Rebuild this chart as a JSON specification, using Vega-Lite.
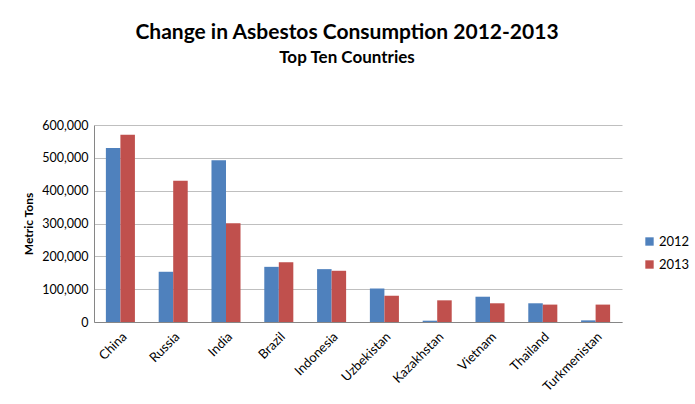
{
  "$schema": "https://vega.github.io/schema/vega-lite/v6.json",
  "autosize": {"type": "none"},
  "width": 528,
  "height": 197,
  "padding": {"left": 94, "top": 125, "right": 73, "bottom": 82},
  "background": "white",
  "title": {
    "text": "Change in Asbestos Consumption 2012-2013",
    "subtitle": "Top Ten Countries",
    "anchor": "middle",
    "frame": "group",
    "dx": -11,
    "offset": 53,
    "font": "Lato",
    "fontSize": 21,
    "fontWeight": "bold",
    "color": "black",
    "subtitleFont": "Lato",
    "subtitleFontSize": 17,
    "subtitleFontWeight": "bold",
    "subtitleColor": "black",
    "subtitlePadding": 7
  },
  "data": {
    "values": [
      {"country": "China", "year": "2012", "tons": 530000},
      {"country": "China", "year": "2013", "tons": 570000},
      {"country": "Russia", "year": "2012", "tons": 153000},
      {"country": "Russia", "year": "2013", "tons": 430000},
      {"country": "India", "year": "2012", "tons": 493000},
      {"country": "India", "year": "2013", "tons": 301000},
      {"country": "Brazil", "year": "2012", "tons": 168000},
      {"country": "Brazil", "year": "2013", "tons": 182000},
      {"country": "Indonesia", "year": "2012", "tons": 161000},
      {"country": "Indonesia", "year": "2013", "tons": 156000},
      {"country": "Uzbekistan", "year": "2012", "tons": 102000},
      {"country": "Uzbekistan", "year": "2013", "tons": 80000},
      {"country": "Kazakhstan", "year": "2012", "tons": 4000},
      {"country": "Kazakhstan", "year": "2013", "tons": 66000},
      {"country": "Vietnam", "year": "2012", "tons": 77000},
      {"country": "Vietnam", "year": "2013", "tons": 57000},
      {"country": "Thailand", "year": "2012", "tons": 57000},
      {"country": "Thailand", "year": "2013", "tons": 53000},
      {"country": "Turkmenistan", "year": "2012", "tons": 5000},
      {"country": "Turkmenistan", "year": "2013", "tons": 53000}
    ]
  },
  "mark": {"type": "bar"},
  "encoding": {
    "x": {
      "field": "country",
      "type": "nominal",
      "sort": null,
      "scale": {"paddingInner": 0.45, "paddingOuter": 0.225},
      "axis": {
        "title": null,
        "labelAngle": -45,
        "labelAlign": "right",
        "labelBaseline": "top",
        "labelFont": "Lato",
        "labelFontSize": 13,
        "labelColor": "black",
        "ticks": false,
        "labelPadding": 8,
        "domainColor": "#868686"
      }
    },
    "xOffset": {"field": "year", "type": "nominal", "scale": {"paddingInner": 0, "paddingOuter": 0}},
    "y": {
      "field": "tons",
      "type": "quantitative",
      "scale": {"domain": [0, 600000]},
      "axis": {
        "title": "Metric Tons",
        "titleFont": "Lato",
        "titleFontSize": 12,
        "titleFontWeight": "bold",
        "titleColor": "black",
        "titlePadding": 6,
        "values": [0, 100000, 200000, 300000, 400000, 500000, 600000],
        "format": ",.0f",
        "labelFont": "Lato",
        "labelFontSize": 12.5,
        "labelColor": "black",
        "labelPadding": 6,
        "ticks": false,
        "grid": true,
        "gridColor": "#BFBFBF",
        "gridWidth": 1.2,
        "domainColor": "#868686"
      }
    },
    "color": {
      "field": "year",
      "type": "nominal",
      "scale": {"domain": ["2012", "2013"], "range": ["#4F81BD", "#C0504D"]},
      "legend": {
        "title": null,
        "orient": "none",
        "legendX": 549,
        "legendY": 110,
        "symbolType": "square",
        "symbolSize": 70,
        "symbolStrokeWidth": 0,
        "labelFont": "Lato",
        "labelFontSize": 13,
        "labelColor": "black",
        "rowPadding": 9,
        "labelOffset": 3
      }
    }
  },
  "config": {
    "view": {"stroke": null}
  }
}
